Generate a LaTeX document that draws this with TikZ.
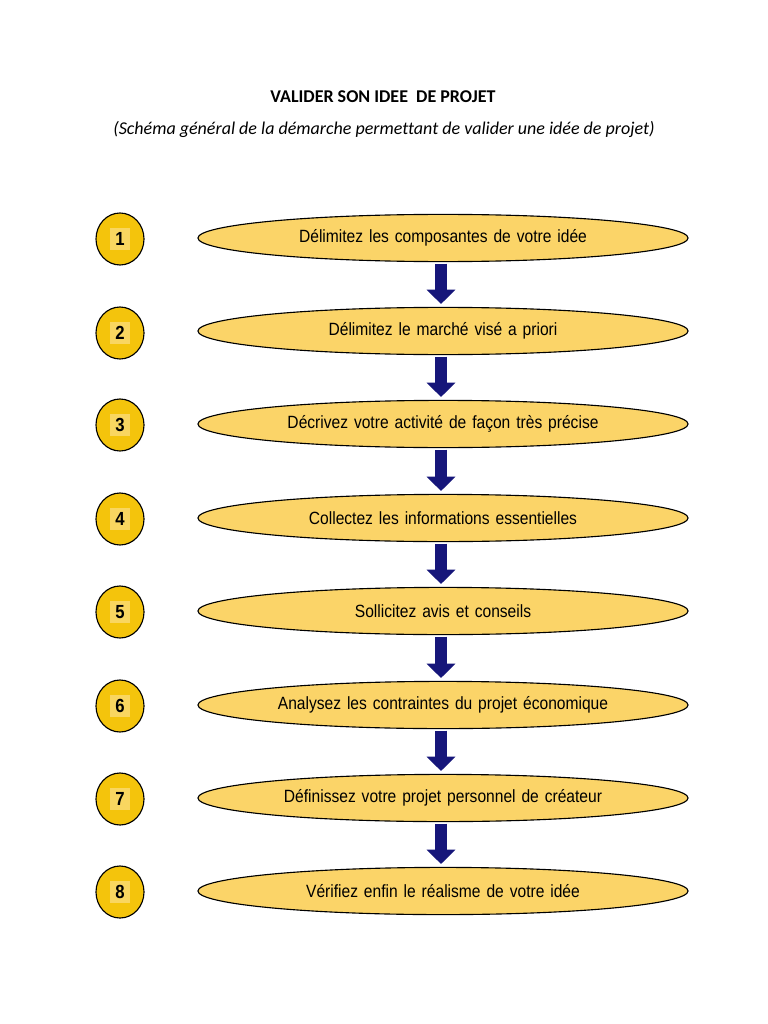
\documentclass[tikz,border=0pt]{standalone}
\usepackage{fontspec}
\setmainfont{Carlito}[Ligatures=CommonOff]
\newfontfamily\stepfont{Liberation Sans}[FakeStretch=0.88]
\definecolor{CircGold}{RGB}{244, 196, 12}
\definecolor{SqYellow}{RGB}{249, 214, 96}
\definecolor{EllYellow}{RGB}{251, 212, 104}
\definecolor{ArrowNavy}{RGB}{22, 22, 122}
\usetikzlibrary{arrows.meta, positioning, shapes.geometric}

\begin{document}
\begin{tikzpicture}[
    x=0.025cm, y=-0.025cm,
    every node/.style={align=center},
    numcirc/.style={ellipse, draw=black, thick, fill=CircGold, minimum width=1.2cm,
                    minimum height=1.3cm, inner sep=0pt, font=\stepfont\bfseries\fontsize{13.5}{15}\selectfont,
                    path picture={\fill[SqYellow] ([shift={(-0.26cm,-0.28cm)}]path picture bounding box.center)
                                  rectangle ([shift={(0.26cm,0.28cm)}]path picture bounding box.center);}},
    stepell/.style={ellipse, draw=black, thick, fill=EllYellow, minimum width=12.25cm,
                    minimum height=1.18cm, inner sep=0pt, text width=8.4cm,
                    font=\stepfont\fontsize{12.6}{14}\selectfont},
    flow/.style={line width=0.3cm, ArrowNavy, -{Triangle[width=0.7cm, length=0.36cm]}, shorten <=1pt, shorten >=2pt}
]
\useasboundingbox (0,0) rectangle (768,1024);
\fill[white] (0,0) rectangle (768,1024);

\node[font=\bfseries\fontsize{12.8}{15}\selectfont] (title) at (383,97) {VALIDER SON IDEE\ \ DE PROJET};
\node[font=\itshape\fontsize{12.8}{15}\selectfont] (sub) at (384,129) {(Schéma général de la démarche permettant de valider une idée de projet)};

\node[numcirc] (n1) at (120,239) {1};
\node[numcirc] (n2) at (120,333) {2};
\node[numcirc] (n3) at (120,425) {3};
\node[numcirc] (n4) at (120,519) {4};
\node[numcirc] (n5) at (120,612) {5};
\node[numcirc] (n6) at (120,706) {6};
\node[numcirc] (n7) at (120,799) {7};
\node[numcirc] (n8) at (120,892) {8};

\node[stepell] (s1) at (443,238) {Délimitez les composantes de votre idée};
\node[stepell] (s2) at (443,331) {Délimitez le marché visé a priori};
\node[stepell] (s3) at (443,424) {Décrivez votre activité de façon très précise};
\node[stepell] (s4) at (443,518) {Collectez les informations essentielles};
\node[stepell] (s5) at (443,611) {Sollicitez avis et conseils};
\node[stepell] (s6) at (443,705) {Analysez les contraintes du projet économique};
\node[stepell] (s7) at (443,798) {Définissez votre projet personnel de créateur};
\node[stepell] (s8) at (443,891) {Vérifiez enfin le réalisme de votre idée};

\draw[flow] (s1.south -| 441,0) -- (s2.north -| 441,0);
\draw[flow] (s2.south -| 441,0) -- (s3.north -| 441,0);
\draw[flow] (s3.south -| 441,0) -- (s4.north -| 441,0);
\draw[flow] (s4.south -| 441,0) -- (s5.north -| 441,0);
\draw[flow] (s5.south -| 441,0) -- (s6.north -| 441,0);
\draw[flow] (s6.south -| 441,0) -- (s7.north -| 441,0);
\draw[flow] (s7.south -| 441,0) -- (s8.north -| 441,0);
\end{tikzpicture}
\end{document}
